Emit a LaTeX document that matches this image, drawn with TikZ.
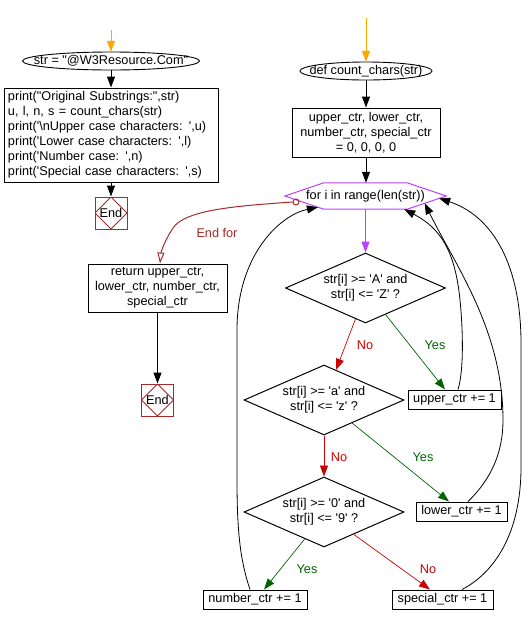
\documentclass[tikz,border=0pt]{standalone}
\usepackage{fontspec}
\setmainfont{Liberation Sans}[Ligatures=TeXOff]
\usetikzlibrary{arrows.meta,shapes.geometric,calc}
\definecolor{endred}{RGB}{165,42,42}
\definecolor{nored}{RGB}{204,0,0}
\definecolor{yesgreen}{RGB}{0,100,0}
\definecolor{loopviolet}{RGB}{190,64,255}
\definecolor{startorange}{RGB}{255,165,0}
\begin{document}
\begin{tikzpicture}[x=1pt,y=-1pt, font=\fontsize{12.7}{15}\selectfont,
  every node/.style={inner sep=0pt},
  flow/.style={line width=1pt, -{Triangle[length=11pt,width=8pt]}},
  thinflow/.style={line width=0.7pt, -{Triangle[length=11pt,width=8pt]}},
  back/.style={line width=0.8pt, -{Triangle[length=11pt,width=8pt]}},
  box/.style={draw, line width=1pt, rectangle},
  ovalbox/.style={rectangle, minimum height=18pt},
  endbox/.style={draw=endred, line width=1pt, minimum width=32pt, minimum height=32pt,
    path picture={\draw[endred, line width=0.8pt] (path picture bounding box.north) -- (path picture bounding box.east) -- (path picture bounding box.south) -- (path picture bounding box.west) -- cycle;}},
  decision/.style={draw, diamond, aspect=2.3, minimum width=160pt, minimum height=70pt, line width=1pt, align=center},
]
\useasboundingbox (0,0) rectangle (530,625);

% ---------- left column ----------
\coordinate (lstart) at (111,30);
\node[ovalbox, minimum width=177pt] (s1) at (111,61) {str = "@W3Resource.Com"};
\draw[line width=0.9pt] (s1.center) ellipse [x radius=88.5pt, y radius=9pt];
\draw[flow, startorange] (lstart) -- (s1.north);
\node[box, text width=206pt, inner xsep=4pt, inner ysep=2pt, minimum height=94pt, align=left] (p1) at (111,135)
  {print("Original Substrings:",str)\\
   u, l, n, s = count\_chars(str)\\
   print('\textbackslash nUpper case characters: ',u)\\
   print('Lower case characters: ',l)\\
   print('Number case: ',n)\\
   print('Special case characters: ',s)};
\node[endbox] (e1) at (111,213) {End};
\draw[flow] (s1) -- (p1);
\draw[flow] (p1) -- (e1);

% ---------- right column ----------
\coordinate (rstart) at (366,18);
\node[ovalbox, minimum width=132pt] (c1) at (366,71) {def count\_chars(str)};
\draw[line width=0.9pt] (c1.center) ellipse [x radius=66pt, y radius=9pt];
\draw[flow, startorange] (rstart) -- (c1.north);
\node[box, minimum width=148pt, minimum height=49pt, align=center] (b1) at (366,132.5)
  {upper\_ctr, lower\_ctr,\\number\_ctr, special\_ctr\\= 0, 0, 0, 0};
\draw[flow] (c1) -- (b1);

\node[minimum width=161pt, minimum height=26pt] (loop) at (365.5,196) {for i in range(len(str))};
\coordinate (hTL) at ([xshift=39pt]loop.north west);
\coordinate (hTR) at ([xshift=-39pt]loop.north east);
\coordinate (hBL) at ([xshift=39pt]loop.south west);
\coordinate (hBR) at ([xshift=-39pt]loop.south east);
\draw[loopviolet, line width=1pt] (loop.west) -- (hTL) -- (hTR) -- (loop.east) -- (hBR) -- (hBL) -- cycle;
\draw[flow] (b1.south) -- (b1.south |- loop.north);

\node[decision] (d1) at (365.5,288) {str[i] >= 'A' and\\str[i] <= 'Z' ?};
\draw[flow, loopviolet] (loop.south) -- (d1.north);
\node[decision] (d2) at (324,400) {str[i] >= 'a' and\\str[i] <= 'z' ?};
\node[decision] (d3) at (324,512) {str[i] >= '0' and\\str[i] <= '9' ?};

\node[box, minimum width=93pt, minimum height=19pt] (u) at (454.5,399.5) {upper\_ctr += 1};
\node[box, minimum width=91pt, minimum height=19pt] (l) at (461.5,511.5) {lower\_ctr += 1};
\node[box, minimum width=104pt, minimum height=19pt] (n) at (255,599.5) {number\_ctr += 1};
\node[box, minimum width=101pt, minimum height=19pt] (sp) at (442.5,599.5) {special\_ctr += 1};

% decisions
\draw[thinflow, nored] ($(d1.west)!0.875!(d1.south)$) -- ($(d2.north)!0.15!(d2.east)$);
\node[text=nored] (no1) at (365,345) {No};
\draw[thinflow, yesgreen] ($(d1.south)!0.25!(d1.east)$) -- ([xshift=-9.5pt]u.north);
\node[text=yesgreen] (yes1) at (435,345) {Yes};
\draw[thinflow, nored] (d2.south) -- (d3.north);
\node[text=nored] (no2) at (339,457) {No};
\draw[thinflow, yesgreen] ($(d2.south)!0.35!(d2.east)$) -- ([xshift=-12.5pt]l.north);
\node[text=yesgreen] (yes2) at (423,457) {Yes};
\draw[thinflow, yesgreen] ($(d3.west)!0.76!(d3.south)$) -- ([xshift=9pt]n.north);
\node[text=yesgreen] (yes3) at (307,569) {Yes};
\draw[thinflow, nored] ($(d3.south)!0.37!(d3.east)$) -- ([xshift=-12.5pt]sp.north);
\node[text=nored] (no3) at (428,569) {No};

% loop-back curves
\coordinate (h0) at ($(loop.west)!0.85!(hBL)$);
\coordinate (h1) at ([xshift=-3pt]hBR);
\coordinate (h2) at ($(hBR)!0.45!(loop.east)$);
\coordinate (h3) at ($(hBR)!0.82!(loop.east)$);
\draw[back] ([xshift=-5pt]n.north) .. controls (240,560) and (237,530) .. (237,480) -- (237,330)
  .. controls (237,255) and (280,215) .. (h0);
\draw[back] ([xshift=3.5pt]u.north) .. controls (464,370) and (463,330) .. (460,300)
  .. controls (455,250) and (440,228) .. (h1);
\draw[back] ([xshift=6.5pt]l.north) .. controls (485,485) and (503,460) .. (503,420)
  .. controls (503,330) and (455,265) .. (h2);
\draw[back] ([xshift=19.5pt]sp.north) .. controls (490,575) and (520,540) .. (521,470) -- (521,340)
  .. controls (520,260) and (490,215) .. (h3);

% return branch
\node[box, minimum width=139pt, minimum height=48pt, align=center] (r) at (157.5,288)
  {return upper\_ctr,\\lower\_ctr, number\_ctr,\\special\_ctr};
\node[endbox] (e2) at (157.5,400) {End};
\draw[flow] (r) -- (e2);
\node[circle, draw=endred, line width=1pt, minimum size=6pt] (efc) at (296,202) {};
\draw[endred, line width=1pt, -{Triangle[open, length=11pt, width=7pt]}] (efc.west)
  .. controls (235,206) and (185,210) .. (173,228)
  .. controls (165,240) and (161,252) .. ([xshift=2.5pt]r.north);
\node[text=endred] (eflab) at (217,233) {End for};
\end{tikzpicture}
\end{document}
